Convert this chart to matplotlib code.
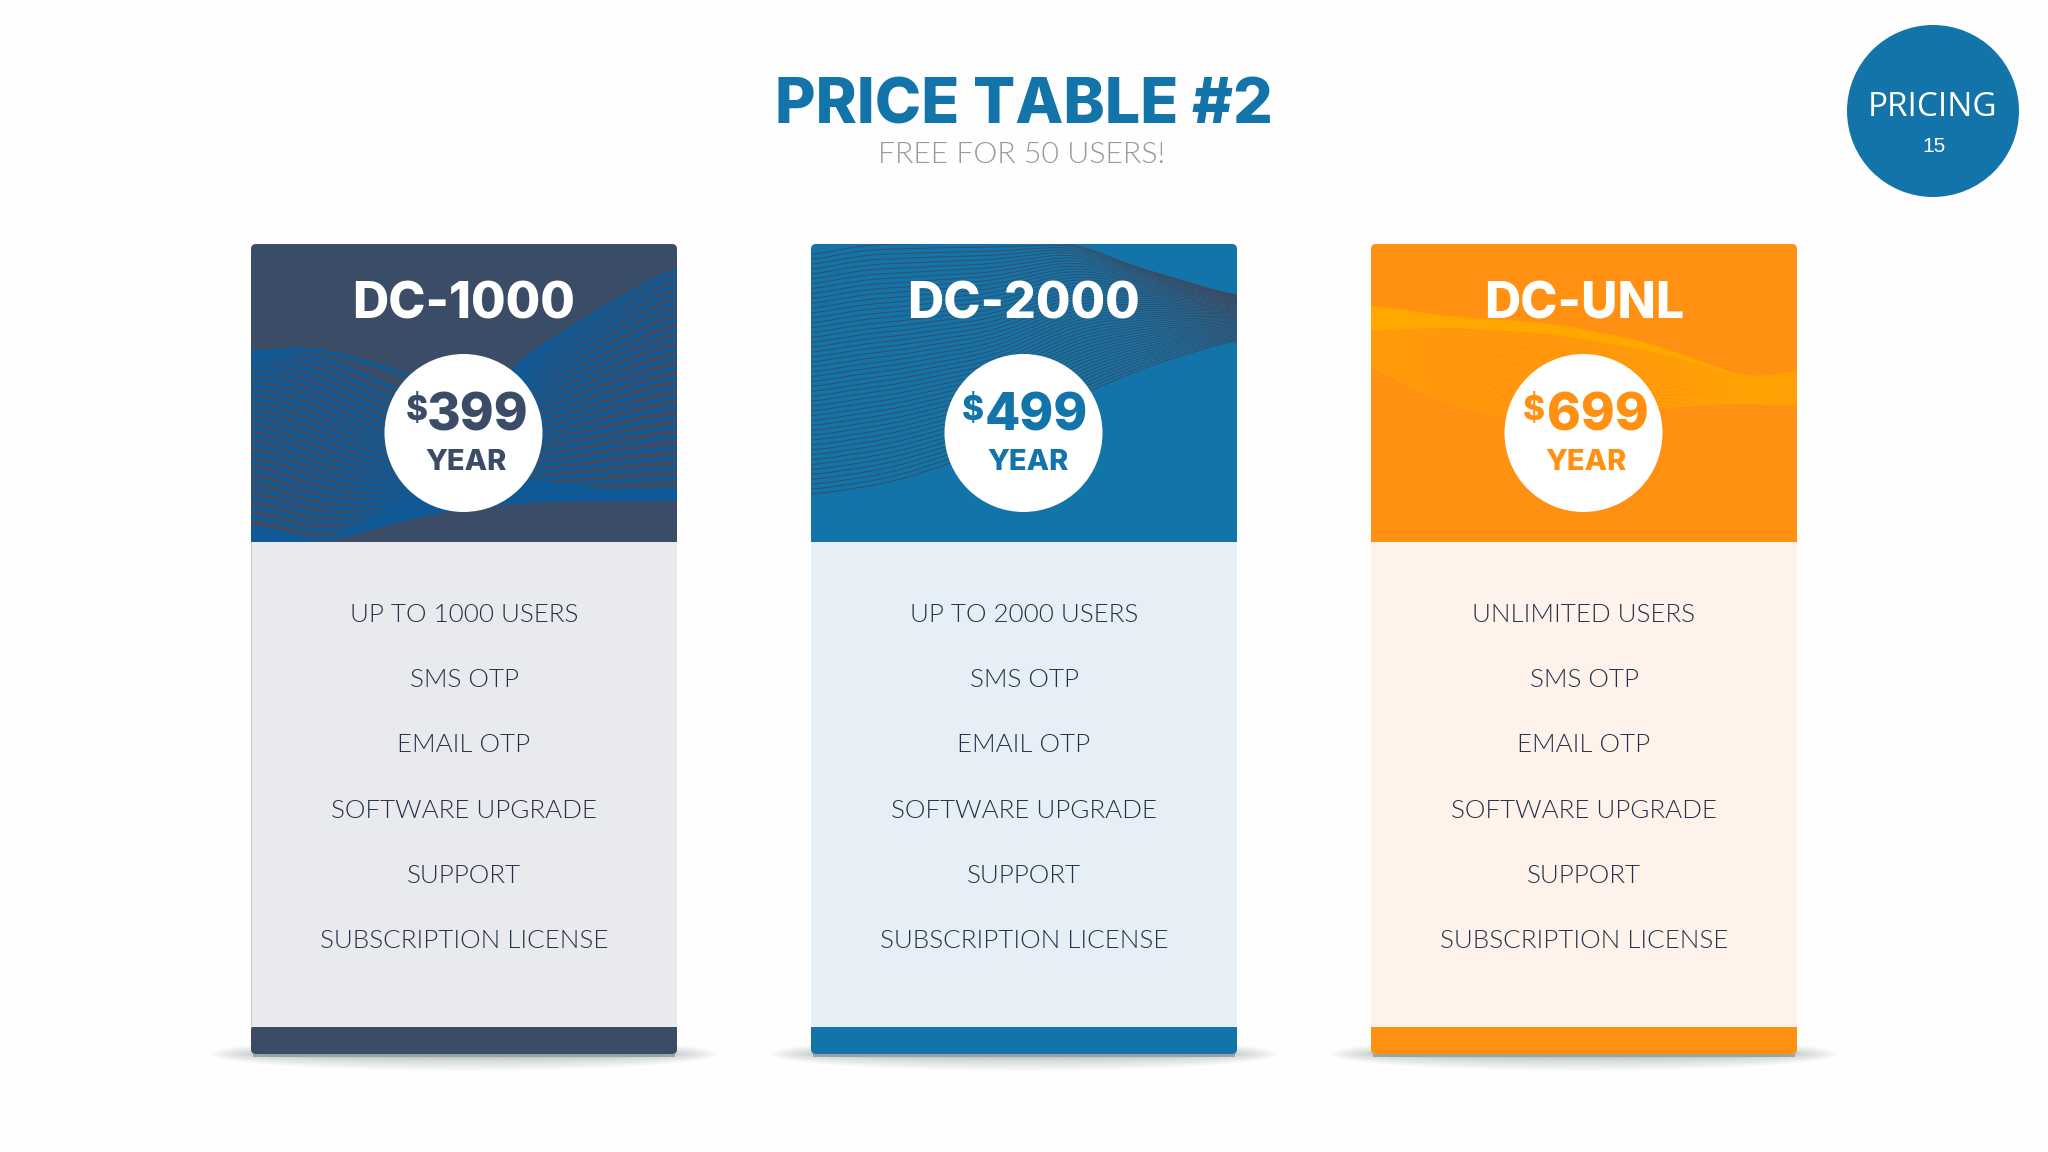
import matplotlib
matplotlib.use('Agg')
import matplotlib.pyplot as plt
import numpy as np
from matplotlib.collections import LineCollection
from matplotlib.patches import Circle, Ellipse, FancyBboxPatch, Rectangle

title = 'PRICE TABLE #2'
subtitle = 'FREE FOR 50 USERS!'
badge_label = 'PRICING'
badge_page = '15'

plans = ['DC-1000', 'DC-2000', 'DC-UNL']
prices = ['399', '499', '699']
period = 'YEAR'
first_rows = ['UP TO 1000 USERS', 'UP TO 2000 USERS', 'UNLIMITED USERS']
other_rows = ['SMS OTP', 'EMAIL OTP', 'SOFTWARE UPGRADE', 'SUPPORT', 'SUBSCRIPTION LICENSE']

head_colors = ['#3A4C66', '#1274A8', '#FF9012']
wave_colors = ['#0F5A96', '#3A4C66', '#FFA800']
body_colors = ['#E9EAED', '#E6EEF6', '#FFF2EA']
price_colors = ['#3A4C66', '#1274A8', '#FF9012']

card_left = [251, 811, 1371]
price_x = [478, 1036, 1598]
dollar_x = [417, 973, 1534]
year_x = [466, 1028, 1586]
card_w = 426
row_y = [613, 678, 743, 809, 874, 939]

# wave outlines
waves = [
    {'top': [(251, 353), (313, 348), (400, 372), (480, 405), (517, 363), (600, 310), (677, 267)],
     'low': [(251, 525), (320, 542), (430, 512), (530, 500), (677, 499)],
     'solid': [(320, 542), (420, 495), (520, 478), (600, 488), (677, 490)],
     'n': 25, 'lw': 2.8, 'power': [(251, 1.4), (400, 0.6), (517, 1.1), (677, 1.1)]},
    {'top': [(811, 256), (860, 245), (950, 243), (1077, 243), (1123, 263), (1237, 297)],
     'low': [(811, 495), (890, 483), (990, 450), (1090, 390), (1157, 363), (1237, 339)],
     'solid': None,
     'n': 50, 'lw': 0.7, 'power': [(811, 1.0), (1000, 1.0), (1237, 1.6)]},
    {'top': [(1371, 305), (1450, 317), (1550, 323), (1650, 343), (1753, 380), (1797, 370)],
     'low': [(1371, 363), (1417, 393), (1500, 418), (1667, 408), (1717, 403), (1797, 405)],
     'solid': [(1371, 330), (1450, 327), (1550, 333), (1650, 350), (1753, 380), (1797, 370)],
     'n': 42, 'lw': 0.5, 'power': [(1371, 1.0), (1797, 1.0)]},
]

HEAVY = 'Inter'
LIGHT = 'Lato'

fig = plt.figure(figsize=(20.48, 11.52), dpi=100, facecolor='#FEFEFE')
ax = fig.add_axes([0, 0, 1, 1])
ax.set_xlim(0, 2048)
ax.set_ylim(1152, 0)
ax.axis('off')


def curve(points, xs):
    px, py = zip(*points)
    y = np.interp(xs, px, py)
    k = 14
    padded = np.pad(y, k, mode='reflect', reflect_type='odd')
    return np.convolve(padded, np.ones(2 * k + 1) / (2 * k + 1), mode='valid')


ax.text(1024, 107, title, ha='center', va='center', color='#1274A8',
        fontsize=45, family=HEAVY, weight='heavy')
ax.text(1022, 155, subtitle, ha='center', va='center', color='#98989B',
        fontsize=21.8, family=LIGHT, weight=300)

ax.add_patch(Circle((1933, 111), 86, color='#1274A8', lw=0))
ax.text(1933, 108, badge_label, ha='center', va='center', color='white',
        fontsize=24, family='Open Sans')
ax.text(1934, 147, badge_page, ha='center', va='center', color='white',
        fontsize=15, family='Liberation Sans')

for i, x0 in enumerate(card_left):
    cx = x0 + card_w / 2

    # soft shadow under the card
    for grow in np.linspace(0, 1, 24) ** 1.5:
        ax.add_patch(Ellipse((cx, 1054), card_w + 84 * grow, 8 + 26 * grow, color='#7A8A88',
                             alpha=0.02, lw=0, zorder=1))
    ax.add_patch(Rectangle((x0 + 2, 1054), card_w - 4, 3, color='#87948F', alpha=0.7, lw=0, zorder=1))

    head = FancyBboxPatch((x0 + 5, 249), card_w - 10, 303, boxstyle='round,pad=5,rounding_size=5',
                          fc=head_colors[i], ec='none', zorder=2)
    ax.add_patch(head)

    wave = waves[i]
    xs = np.arange(x0 - 15, x0 + card_w + 15, 2.0)
    top = curve(wave['top'], xs)
    low = curve(wave['low'], xs)
    power = curve(wave['power'], xs)
    segs = []
    for s in np.linspace(0, 1, wave['n']):
        segs.append(np.column_stack([xs, top + s ** power * (low - top)]))
    lines = LineCollection(segs, colors=wave_colors[i], linewidths=wave['lw'], zorder=3)
    ax.add_collection(lines)
    lines.set_clip_path(head)
    if wave['solid'] is not None:
        if i == 2:
            fill = ax.fill_between(xs, top, curve(wave['solid'], xs), color=wave_colors[i], lw=0, zorder=3)
        else:
            fill = ax.fill_between(xs, curve(wave['solid'], xs), low, color=wave_colors[i], lw=0, zorder=3)
        fill.set_clip_path(head)

    foot = FancyBboxPatch((x0 + 5, 1022), card_w - 10, 27, boxstyle='round,pad=5,rounding_size=5',
                          fc=head_colors[i], ec='none', zorder=2)
    ax.add_patch(foot)
    ax.add_patch(Rectangle((x0, 542), card_w, 485, fc=body_colors[i], ec='none', zorder=4))
    if i == 0:
        ax.plot([x0, x0], [542, 1027], color='#C8C8CA', lw=0.7, zorder=5)

    ax.text(cx, 305, plans[i], ha='center', va='center', color='white',
            fontsize=36, family=HEAVY, weight='heavy', zorder=6)

    ax.add_patch(Circle((x0 + 212.5, 433), 79, fc='white', ec='none', zorder=6))
    ax.text(price_x[i], 417, prices[i], ha='center', va='center', color=price_colors[i],
            fontsize=37, family=HEAVY, weight='heavy', zorder=7)
    ax.text(dollar_x[i], 411, '$', ha='center', va='center', color=price_colors[i],
            fontsize=24, family=HEAVY, weight='heavy', zorder=7)
    ax.text(year_x[i], 463, period, ha='center', va='center', color=price_colors[i],
            fontsize=21, family=HEAVY, weight='heavy', zorder=7)

    for y, label in zip(row_y, [first_rows[i]] + other_rows):
        ax.text(cx, y + 2, label, ha='center', va='center', color='#22324A',
                fontsize=18.7, family=LIGHT, weight=300, zorder=7)

fig.savefig('out.png', dpi=100, facecolor=fig.get_facecolor())
